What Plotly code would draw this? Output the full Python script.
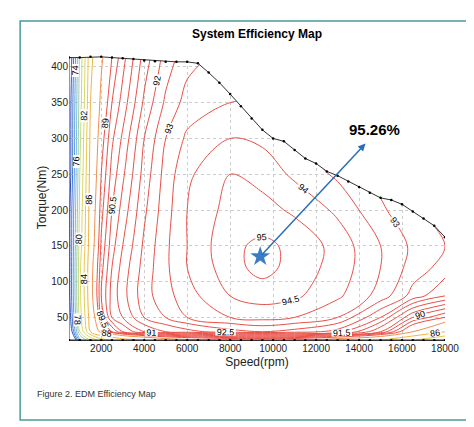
import plotly.graph_objects as go

# efficiency grid (%)
speed = [500, 1000, 1500, 2000, 2500, 3000, 4000, 5000, 6000, 8000, 9500, 11000, 13000, 15000, 16500, 18000]
torque = [18, 30, 50, 80, 120, 150, 200, 250, 300, 350, 415]
eff = [
    [60, 75, 80, 83, 84, 85, 86, 87, 87.5, 88, 88, 88, 87, 86, 84, 82],
    [66, 80, 86, 88.5, 89.5, 90.5, 91.5, 92, 92.3, 92.8, 93, 92.8, 92.3, 90.5, 88, 86],
    [68, 81, 87, 89.5, 91, 91.5, 92.5, 93, 93.5, 94, 94.2, 94, 93.5, 92, 90, 89],
    [69, 81.5, 87.5, 90, 91.2, 91.8, 92.8, 93.3, 93.8, 94.5, 94.7, 94.6, 94.1, 93.3, 92.3, 91.5],
    [69, 81.5, 87.5, 89.8, 91, 91.7, 92.7, 93.4, 94, 94.8, 95.2, 94.8, 94.3, 93.5, 92.8, 92.3],
    [69, 81, 87.2, 89.6, 90.8, 91.5, 92.6, 93.4, 94, 94.9, 95.1, 94.9, 94.3, 93.5, 92.9, 92.5],
    [69, 80.5, 87, 89.3, 90.5, 91.2, 92.4, 93.3, 94, 94.7, 94.7, 94.4, 93.9, 93.1, 92.6, 92.2],
    [68, 80, 86.7, 89, 90.2, 90.9, 92.2, 93.2, 93.9, 94.5, 94.3, 93.9, 93.4, 92.8, 92.3, 92],
    [68, 79.5, 86.4, 88.7, 89.9, 90.6, 92, 93, 93.6, 94, 93.9, 93.5, 93, 92.5, 92, 91.8],
    [68, 79, 86, 88.3, 89.5, 90.2, 91.6, 92.6, 93.2, 93.5, 93.5, 93.2, 92.8, 92.3, 91.9, 91.7],
    [67, 78.5, 85.5, 87.8, 89, 89.8, 91.2, 92.2, 92.8, 93.2, 93.2, 93, 92.6, 92.2, 91.8, 91.6],
]

# max torque envelope
env_speed = [500, 1000, 1500, 2000, 2500, 3000, 3500, 4000, 4500, 5000, 5500, 6000, 6500,
             7000, 7500, 8000, 8500, 9000, 9500, 10000, 10500, 11000, 11500, 12000, 12500,
             13000, 13500, 14000, 14500, 15000, 15500, 16000, 16500, 17000, 17500, 18000]
env_torque = [413, 413, 414, 414, 413, 412, 411, 409, 408, 407, 407, 407, 405,
              392, 378, 362, 345, 328, 312, 300, 296, 284, 272, 265, 254,
              248, 240, 232, 224, 217, 214, 208, 198, 188, 178, 162]
base_torque = 18

peak_speed, peak_torque, peak_label = 9400, 135, "95.26%"

fig = go.Figure()
fig.add_trace(go.Contour(
    x=speed, y=torque, z=eff,
    contours=dict(start=70, end=88, size=2, coloring="lines", showlabels=True,
                  labelfont=dict(size=9, color="black")),
    colorscale=[[0, "#3050c0"], [0.3, "#70b8e8"], [0.6, "#d0e070"], [0.85, "#f0c040"], [1, "#f09050"]],
    showscale=False, line=dict(width=1), hoverinfo="skip"))
fig.add_trace(go.Contour(
    x=speed, y=torque, z=eff,
    contours=dict(start=89, end=95, size=0.5, coloring="lines", showlabels=True,
                  labelfont=dict(size=9, color="black")),
    colorscale=[[0, "#e85048"], [1, "#e85048"]],
    showscale=False, line=dict(width=1), hoverinfo="skip"))

# blank out region above envelope
fig.add_trace(go.Scatter(
    x=env_speed + [18000, 500], y=env_torque + [420, 420],
    fill="toself", fillcolor="white", line=dict(width=0), mode="lines", hoverinfo="skip"))
fig.add_trace(go.Scatter(
    x=[500] + env_speed, y=[base_torque] + env_torque, mode="lines+markers",
    line=dict(color="#333", width=1), marker=dict(size=2.5, color="black")))
fig.add_trace(go.Scatter(
    x=env_speed, y=[base_torque] * len(env_speed), mode="lines+markers",
    line=dict(color="#333", width=1.5), marker=dict(size=2.5, color="black")))
fig.add_trace(go.Scatter(
    x=[peak_speed], y=[peak_torque], mode="markers",
    marker=dict(symbol="star", size=15, color="#3a7cc4")))

fig.add_annotation(x=14300, y=293, ax=peak_speed, ay=peak_torque, xref="x", yref="y",
                   axref="x", ayref="y", showarrow=True, arrowhead=2, arrowsize=1,
                   arrowwidth=1.5, arrowcolor="#2a6ebb", text="")
fig.add_annotation(x=14700, y=312, xref="x", yref="y", text="<b>" + peak_label + "</b>",
                   showarrow=False, font=dict(size=15, color="black"))
fig.add_annotation(x=0.5, y=1.07, xref="paper", yref="paper", text="<b>System Efficiency Map</b>",
                   showarrow=False, font=dict(size=12, color="black"), yanchor="middle")
fig.add_annotation(x=-0.09, y=-0.185, xref="paper", yref="paper", text="Figure 2. EDM Efficiency Map",
                   showarrow=False, font=dict(size=9, color="#333"), xanchor="left", yanchor="middle")
fig.add_shape(type="rect", xref="paper", yref="paper", x0=-0.13, x1=1.065, y0=-0.275, y1=1.115,
              line=dict(color="#4a9a9a", width=1.5), layer="above")

fig.update_layout(
    width=474, height=427, showlegend=False,
    margin=dict(l=61, r=37, t=46, b=94),
    paper_bgcolor="white", plot_bgcolor="white",
    font=dict(family="Liberation Sans, Arial", color="#222"),
    xaxis=dict(title=dict(text="Speed(rpm)", font=dict(size=12), standoff=4),
               range=[500, 18000], tickvals=list(range(2000, 18001, 2000)), tickformat="d",
               showgrid=True, gridcolor="#ccc", griddash="dot", zeroline=False,
               tickfont=dict(size=10), layer="above traces"),
    yaxis=dict(title=dict(text="Torque(Nm)", font=dict(size=12), standoff=2),
               range=[17, 418], tickvals=list(range(50, 401, 50)),
               showgrid=True, gridcolor="#ccc", griddash="dot", zeroline=False,
               tickfont=dict(size=10), layer="above traces"),
)

fig.write_html("out.html", config={"displayModeBar": False})
